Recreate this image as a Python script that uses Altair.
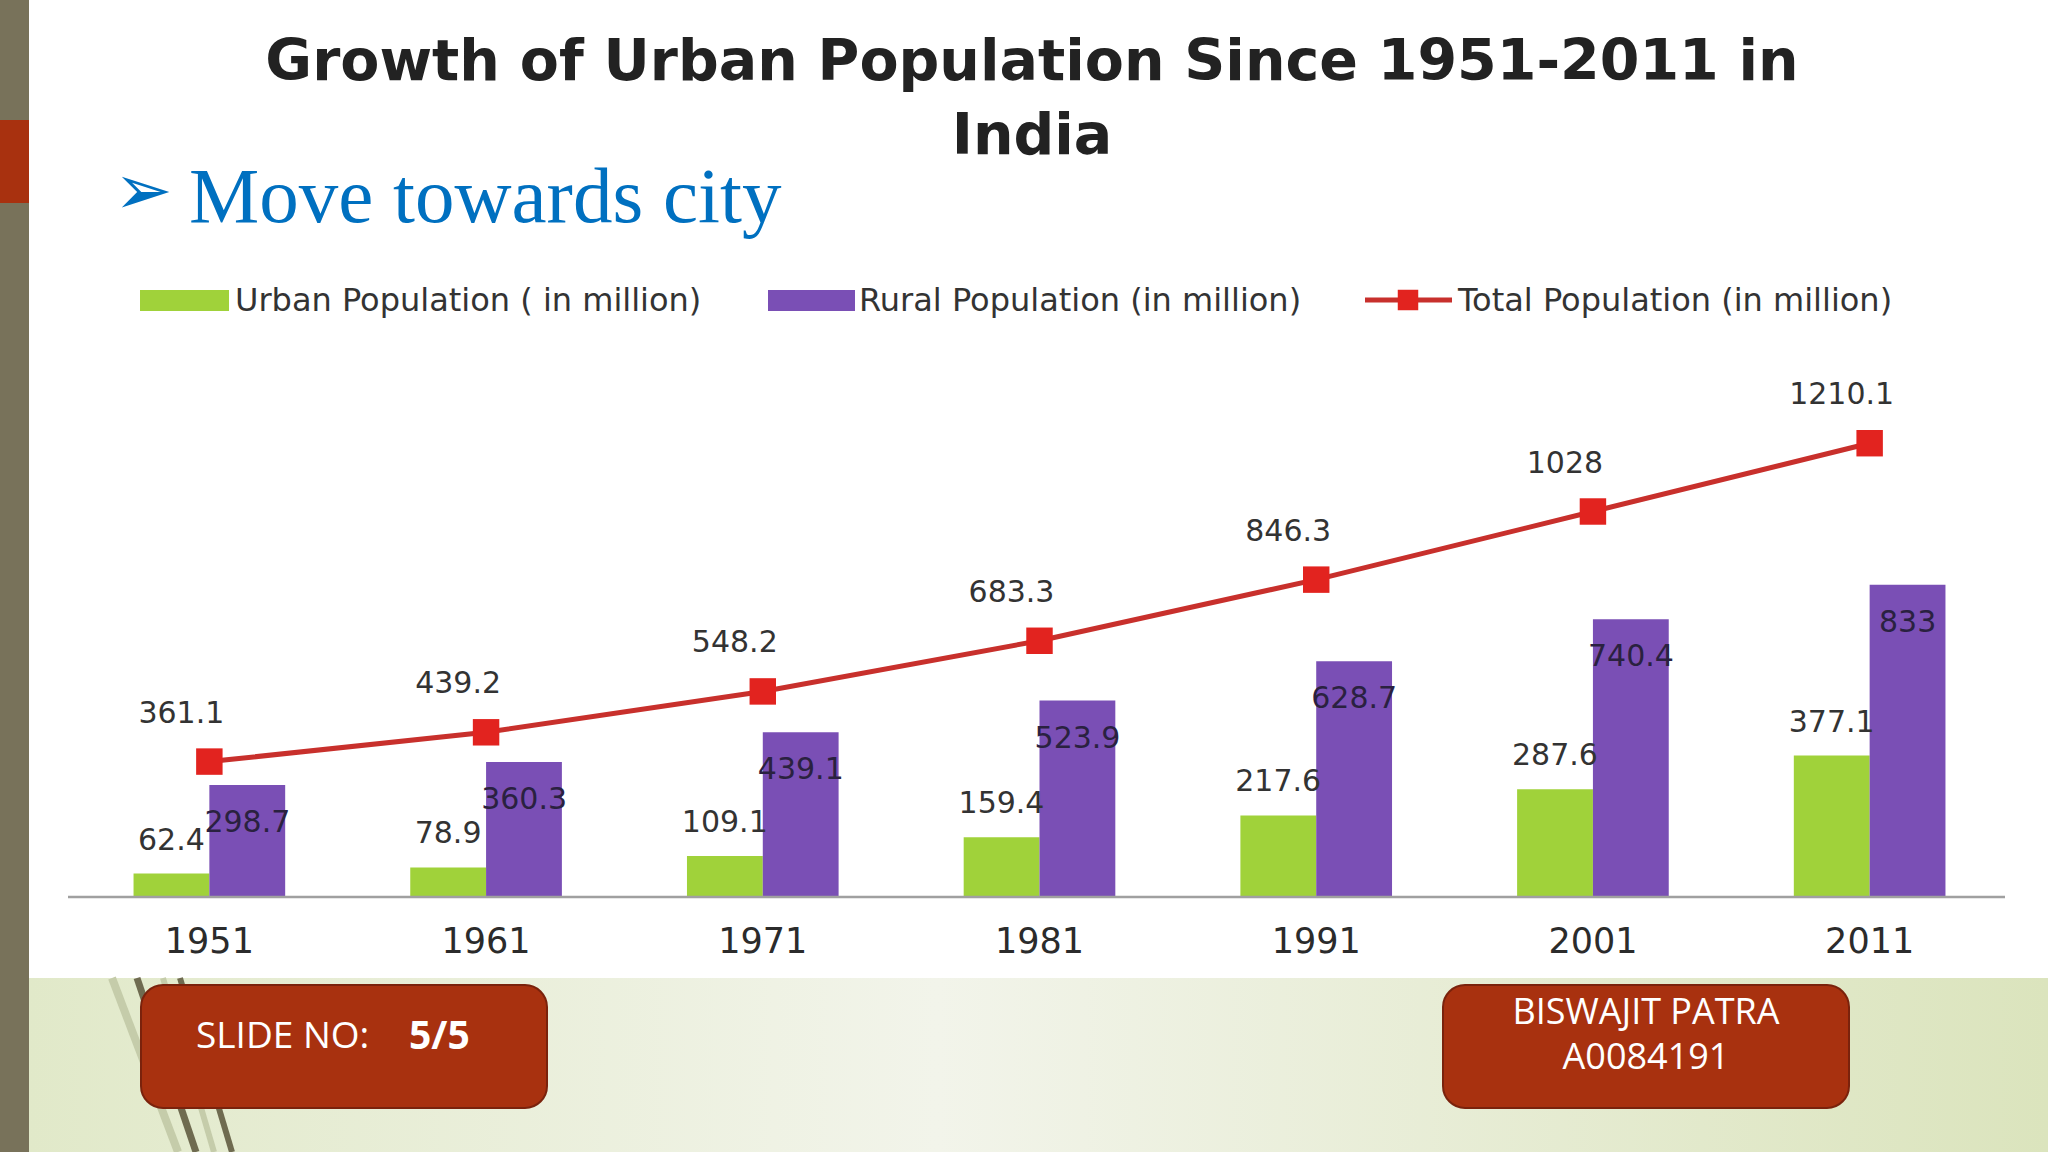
import altair as alt
import pandas as pd

# ---------------- data ----------------
years = ["1951", "1961", "1971", "1981", "1991", "2001", "2011"]
urban = [62.4, 78.9, 109.1, 159.4, 217.6, 287.6, 377.1]
rural = [298.7, 360.3, 439.1, 523.9, 628.7, 740.4, 833]
total = [361.1, 439.2, 548.2, 683.3, 846.3, 1028, 1210.1]
series = ["Urban Population ( in million)", "Rural Population (in million)",
          "Total Population (in million)"]
title_lines = ["Growth of Urban Population Since 1951-2011 in", "India"]
subtitle = "Move towards city"
slide_label = "SLIDE NO:"
slide_no = "5/5"
author_lines = ["BISWAJIT PATRA", "A0084191"]

GREEN = "#A0D23A"
PURPLE = "#7A4FB5"
RED_LINE = "#C8302C"
RED_MK = "#E2231F"
OLIVE = "#78725A"
BRICK = "#A8310F"
TXT = "#333333"

bars = pd.DataFrame({
    "year": years * 2,
    "series": [series[0]] * len(years) + [series[1]] * len(years),
    "value": urban + rural,
})
urb = pd.DataFrame({"year": years, "value": urban, "label": [f"{v:g}" for v in urban]})
rur = pd.DataFrame({"year": years, "value": rural, "label": [f"{v:g}" for v in rural]})
tot = pd.DataFrame({"year": years, "value": total, "label": [f"{v:g}" for v in total]})
zero = pd.DataFrame({"value": [0]})
one = pd.DataFrame({"k": [0]})

xs = alt.Scale(domain=years, range=[71, 2008], paddingInner=0.452, paddingOuter=0.226)
ys = alt.Scale(domain=[0, 2000], range=[897, 147], nice=False)
X = alt.X("year:N", scale=xs, axis=None)
Y = alt.Y("value:Q", scale=ys, axis=None)
XO = alt.XOffset("series:N", scale=alt.Scale(domain=series[:2]))
HALF = 38  # quarter of the band occupied by a bar pair

base1 = alt.Chart(one)


def box(x1, x2, y1, y2, **kw):
    return base1.mark_rect(**kw).encode(x=alt.value(x1), x2=alt.value(x2),
                                         y=alt.value(y1), y2=alt.value(y2))


def seg(x1, y1, x2, y2, color, w):
    return base1.mark_rule(color=color, strokeWidth=w).encode(
        x=alt.value(x1), x2=alt.value(x2), y=alt.value(y1), y2=alt.value(y2))


def label(text, x, y, **kw):
    return base1.mark_text(**kw).encode(x=alt.value(x), y=alt.value(y), text=alt.value(text))


gradient = {
    "gradient": "linear", "x1": 0, "x2": 1, "y1": 0, "y2": 0,
    "stops": [
        {"offset": 0, "color": "#E1E9C9"},
        {"offset": 0.45, "color": "#F2F4EA"},
        {"offset": 1, "color": "#DBE4BD"},
    ],
}

LBL = dict(font="DejaVu Sans", fontSize=30, baseline="middle")

layers = [
    # slide background
    box(29, 2048, 978, 1152, fill=gradient),
    seg(112, 978, 178, 1152, "#C5CCAA", 8),
    seg(137, 978, 196, 1152, "#6F6B50", 7),
    seg(163, 978, 214, 1152, "#C5CCAA", 6),
    seg(180, 978, 232, 1152, "#6F6B50", 6),
    box(0, 29, 0, 1152, fill=OLIVE),
    box(0, 29, 120, 203, fill=BRICK),
    # titles
    label(title_lines[0], 1032, 80, font="DejaVu Sans", fontWeight="bold", fontSize=57,
          color="#222222", align="center", baseline="alphabetic"),
    label(title_lines[1], 1032, 154, font="DejaVu Sans", fontWeight="bold", fontSize=57,
          color="#222222", align="center", baseline="alphabetic"),
    label("\u27a2", 114, 193, font="DejaVu Sans", fontSize=70, color="#0070C0",
          align="left", baseline="middle"),
    label(subtitle, 189, 222, font="Liberation Serif", fontSize=79, color="#0070C0",
          align="left", baseline="alphabetic"),
    # legend
    box(140, 229, 290, 311, fill=GREEN),
    label(series[0], 235, 301, font="DejaVu Sans", fontSize=32, color=TXT,
          align="left", baseline="middle"),
    box(768, 855, 290, 311, fill=PURPLE),
    label(series[1], 859, 301, font="DejaVu Sans", fontSize=32, color=TXT,
          align="left", baseline="middle"),
    seg(1365, 300, 1452, 300, RED_LINE, 5),
    base1.mark_point(shape="square", filled=True, size=420, color=RED_MK, opacity=1).encode(
        x=alt.value(1408), y=alt.value(300)),
    label(series[2], 1458, 301, font="DejaVu Sans", fontSize=32, color=TXT,
          align="left", baseline="middle"),
    # chart
    alt.Chart(bars).mark_bar().encode(
        x=X, xOffset=XO, y=Y,
        color=alt.Color("series:N", scale=alt.Scale(domain=series[:2], range=[GREEN, PURPLE]),
                        legend=None)),
    alt.Chart(zero).mark_rule(color="#a0a0a0", strokeWidth=2.5).encode(
        x=alt.value(68), x2=alt.value(2005), y=Y),
    alt.Chart(tot).mark_line(color=RED_LINE, strokeWidth=5).encode(x=X, y=Y),
    alt.Chart(tot).mark_point(shape="square", filled=True, size=700, color=RED_MK,
                              opacity=1).encode(x=X, y=Y),
    alt.Chart(tot).mark_text(color=TXT, dx=-28, dy=-48, **LBL).encode(
        x=X, y=Y, text="label:N"),
    alt.Chart(urb).mark_text(color=TXT, dx=-HALF, dy=-33, **LBL).encode(
        x=X, y=Y, text="label:N"),
    alt.Chart(rur).mark_text(color="#2a2140", dx=HALF, dy=38, **LBL).encode(
        x=X, y=Y, text="label:N"),
    alt.Chart(tot).mark_text(font="DejaVu Sans", fontSize=35, color="#2b2b2b",
                             baseline="middle").encode(x=X, y=alt.value(942), text="year:N"),
    # footer boxes
    box(141, 547, 985, 1108, fill=BRICK, stroke="#7A220C", strokeWidth=2, cornerRadius=22),
    label(slide_label, 196, 1037, font="Open Sans", fontSize=37, color="white",
          align="left", baseline="middle"),
    label(slide_no, 409, 1037, font="Open Sans", fontWeight="bold", fontSize=39, color="white",
          align="left", baseline="middle"),
    box(1443, 1849, 985, 1108, fill=BRICK, stroke="#7A220C", strokeWidth=2, cornerRadius=22),
    base1.mark_text(font="Open Sans", fontSize=36, color="white", align="center",
                    baseline="middle", lineHeight=45).encode(
        x=alt.value(1646), y=alt.value(1013), text=alt.value(author_lines)),
]

chart = alt.layer(*layers).properties(
    width=2048, height=1152, padding=0,
    autosize=alt.AutoSizeParams(type="none"), background="white",
).configure_view(stroke=None)

chart.save("out.html", embed_options={"renderer": "svg", "actions": False})
